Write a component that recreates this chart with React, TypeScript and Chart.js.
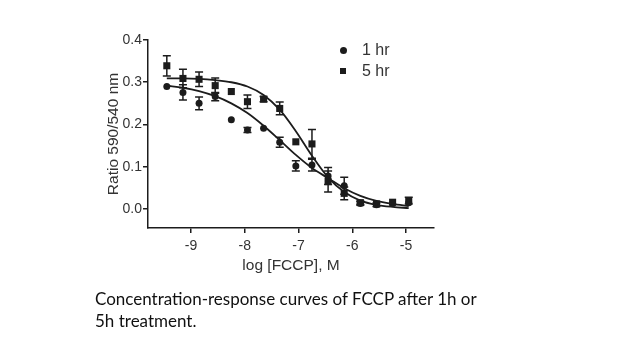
import React, { useEffect, useRef } from "react";
import { Chart, registerables } from "chart.js";
Chart.register(...registerables);

// log [FCCP] doses (M)
const doses = [-9.45, -9.15, -8.85, -8.55, -8.25, -7.95, -7.65, -7.35, -7.05, -6.75, -6.45, -6.15, -5.85, -5.55, -5.25, -4.95];
// 1 hr means and SEM
const oneHr = [0.290, 0.276, 0.250, 0.266, 0.211, 0.187, 0.191, 0.158, 0.102, 0.104, 0.078, 0.055, 0.013, 0.010, 0.013, 0.015];
const oneHrErr = [0, 0.018, 0.015, 0.010, 0, 0.006, 0, 0.012, 0.012, 0.014, 0.020, 0.020, 0.004, 0.004, 0, 0];
// 5 hr means and SEM
const fiveHr = [0.339, 0.309, 0.307, 0.292, 0.278, 0.254, 0.260, 0.238, 0.159, 0.154, 0.065, 0.037, 0.015, 0.012, 0.016, 0.020];
const fiveHrErr = [0.024, 0.022, 0.017, 0.018, 0, 0.016, 0.006, 0.015, 0, 0.034, 0.025, 0.015, 0.004, 0, 0, 0.008];
// fitted curves at each dose
const oneHrFit = [0.292, 0.287, 0.279, 0.267, 0.250, 0.227, 0.197, 0.163, 0.128, 0.097, 0.073, 0.049, 0.031, 0.019, 0.012, 0.007];
const fiveHrFit = [0.309, 0.309, 0.308, 0.305, 0.300, 0.290, 0.270, 0.235, 0.184, 0.126, 0.075, 0.040, 0.020, 0.010, 0.005, 0.002];

const xTicks = [-9, -8, -7, -6, -5];
const yTicks = [0.0, 0.1, 0.2, 0.3, 0.4];
const xTitle = "log [FCCP], M";
const yTitle = "Ratio 590/540 nm";
const seriesNames = ["1 hr", "5 hr"];
const caption = ["Concentration-response curves of FCCP after 1h or", "5h treatment."];

const INK = "#1c1c1c";
const TEXT = "#333333";

const errorBars = {
  id: "errorBars",
  afterDatasetsDraw(chart: any) {
    const { ctx, scales } = chart;
    const x = scales.x, y = scales.y;
    ctx.save();
    ctx.strokeStyle = INK;
    ctx.lineWidth = 1.5;
    const sets: [number[], number[]][] = [[oneHr, oneHrErr], [fiveHr, fiveHrErr]];
    sets.forEach(([vals, errs]) => {
      vals.forEach((v, i) => {
        const e = errs[i];
        if (!e) return;
        const px = x.getPixelForValue(doses[i]);
        const top = y.getPixelForValue(v + e);
        const bot = y.getPixelForValue(v - e);
        ctx.beginPath();
        ctx.moveTo(px, top); ctx.lineTo(px, bot);
        ctx.moveTo(px - 4, top); ctx.lineTo(px + 4, top);
        ctx.moveTo(px - 4, bot); ctx.lineTo(px + 4, bot);
        ctx.stroke();
      });
    });
    ctx.restore();
  },
};

export default function App() {
  const ref = useRef<HTMLCanvasElement | null>(null);
  useEffect(() => {
    const canvas = ref.current!;
    const pts = (ys: number[]) => ys.map((v, i) => ({ x: doses[i], y: v }));
    const chart = new Chart(canvas, {
      type: "scatter",
      data: {
        datasets: [
          { type: "line", label: "fit1", data: pts(oneHrFit), borderColor: INK, borderWidth: 1.8, pointRadius: 0, showLine: true, fill: false, cubicInterpolationMode: "monotone" } as any,
          { type: "line", label: "fit5", data: pts(fiveHrFit), borderColor: INK, borderWidth: 1.8, pointRadius: 0, showLine: true, fill: false, cubicInterpolationMode: "monotone" } as any,
          { label: seriesNames[0], data: pts(oneHr), pointStyle: "circle", pointRadius: 3.5, backgroundColor: INK, borderColor: INK, borderWidth: 0 },
          { label: seriesNames[1], data: pts(fiveHr), pointStyle: "rect", pointRadius: 5, backgroundColor: INK, borderColor: INK, borderWidth: 0 },
        ],
      },
      options: {
        animation: false,
        responsive: false,
        events: [],
        layout: { padding: { top: 40, right: 204, left: 0, bottom: 84 } },
        plugins: { legend: { display: false }, tooltip: { enabled: false } },
        scales: {
          x: {
            type: "linear",
            min: -9.8,
            max: -4.48,
            afterBuildTicks: (s: any) => { s.ticks = xTicks.map((v) => ({ value: v })); },
            afterFit: (s: any) => { s.height = 47; },
            ticks: { color: TEXT, font: { family: "Liberation Sans", size: 14 }, padding: 5, callback: (v: any) => String(v) },
            grid: { drawOnChartArea: false, drawTicks: true, tickLength: 5, color: INK, lineWidth: 1.5 },
            border: { display: true, color: INK, width: 1.5 },
            title: { display: true, text: xTitle, color: TEXT, font: { family: "Liberation Sans", size: 15.5 }, padding: 0 },
          },
          y: {
            type: "linear",
            min: -0.045,
            max: 0.4,
            afterBuildTicks: (s: any) => { s.ticks = yTicks.map((v) => ({ value: v })); },
            afterFit: (s: any) => { s.width = 148; },
            ticks: { color: TEXT, font: { family: "Liberation Sans", size: 14 }, padding: 1, callback: (v: any) => Number(v).toFixed(1) },
            grid: { drawOnChartArea: false, drawTicks: true, tickLength: 5, color: INK, lineWidth: 1.5 },
            border: { display: true, color: INK, width: 1.5 },
            title: { display: true, text: yTitle, color: TEXT, font: { family: "Liberation Sans", size: 15.5 }, padding: { top: 104, bottom: 0 } },
          },
        },
      } as any,
      plugins: [errorBars],
    });
    return () => chart.destroy();
  }, []);

  const legendText: React.CSSProperties = { position: "absolute", left: 362, fontFamily: "Liberation Sans, Arial, sans-serif", fontSize: 16, color: TEXT, lineHeight: "18px" };
  return (
    <div style={{ position: "fixed", left: 0, top: 0, width: 638, height: 359, background: "#fff", overflow: "hidden" }}>
      <canvas ref={ref} width={638} height={359} style={{ position: "absolute", left: 0, top: 0, width: 638, height: 359 }} />
      <div style={{ position: "absolute", left: 340, top: 47, width: 7, height: 7, borderRadius: "50%", background: INK }} />
      <div style={{ ...legendText, top: 41 }}>{seriesNames[0]}</div>
      <div style={{ position: "absolute", left: 340, top: 67.5, width: 6, height: 6, background: INK }} />
      <div style={{ ...legendText, top: 62 }}>{seriesNames[1]}</div>
      <div style={{ position: "absolute", left: 95, top: 288, fontFamily: "Lato, sans-serif", fontSize: 17, lineHeight: "22px", color: "#111" }}>
        {caption[0]}<br />{caption[1]}
      </div>
    </div>
  );
}
